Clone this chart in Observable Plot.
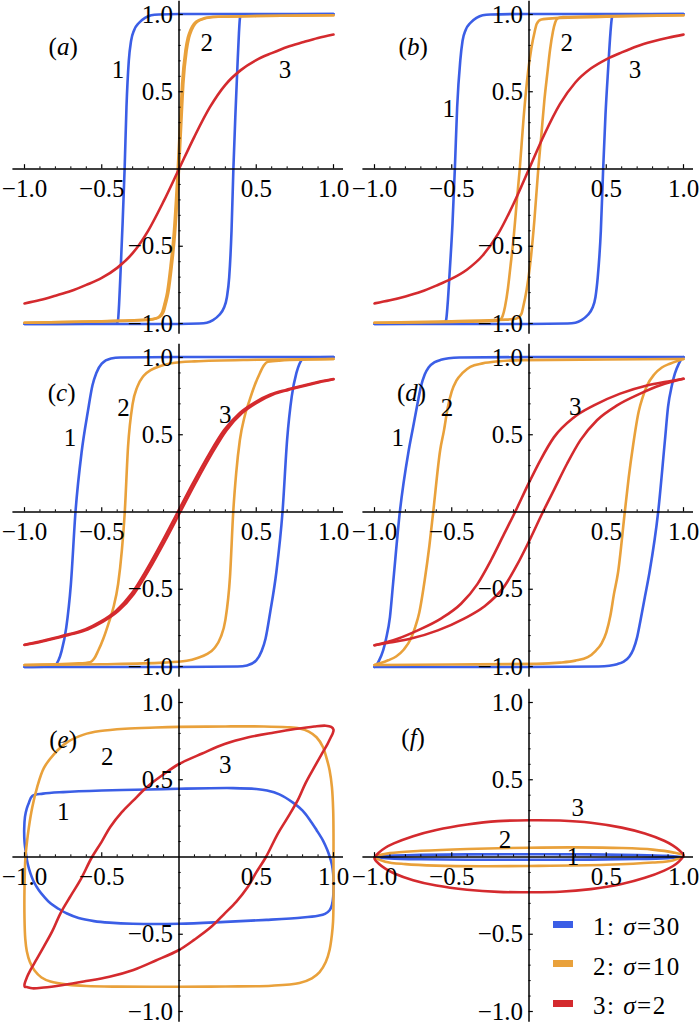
<!DOCTYPE html>
<html><head><meta charset="utf-8">
<script src="https://cdn.jsdelivr.net/npm/d3@7"></script>
<script src="https://cdn.jsdelivr.net/npm/@observablehq/plot@0.6"></script>
<style>
body{margin:0;background:#fff;}
#wrap{position:relative;width:700px;height:1026px;overflow:hidden;font-family:"Liberation Serif","Times New Roman",serif;}
.panel{position:absolute;}
.lrow{position:absolute;white-space:nowrap;font-size:25px;line-height:25px;letter-spacing:1.5px;color:#000;}
.sw{position:absolute;width:20px;height:7px;}
</style></head>
<body><div id="wrap"></div>
<script>
// ---------- tick data ----------
const majorTicks = [-1, -0.5, 0.5, 1];
const xTickLabels = ["−1.0", "−0.5", "0.5", "1.0"];
const yTickLabels = ["−1.0", "−0.5", "0.5", "1.0"];
const minorTicks = [-0.9,-0.8,-0.7,-0.6,-0.4,-0.3,-0.2,-0.1,0.1,0.2,0.3,0.4,0.6,0.7,0.8,0.9];
const seriesColors = ["#3b5ee6", "#e9a13b", "#d42a2e"];
const legendLabels = ["1", "2", "3"];
const legendSigma = ["30", "10", "2"];

// ---------- panel (a) ----------
const A1_up = [[-1,-1.003],[0,-1.003],[0.13,-1.0],[0.18,-0.995],[0.22,-0.978],[0.26,-0.945],[0.29,-0.9],[0.31,-0.83],[0.325,-0.7],[0.34,-0.4],[0.352,0],[0.365,0.35],[0.378,0.66],[0.388,0.88],[0.395,0.98],[0.405,1.0],[1,1.003]];
const A1_down = [[-1,-1.003],[-0.405,-1.0],[-0.395,-0.98],[-0.388,-0.88],[-0.378,-0.66],[-0.365,-0.35],[-0.352,0],[-0.34,0.4],[-0.325,0.7],[-0.31,0.83],[-0.29,0.9],[-0.26,0.945],[-0.22,0.978],[-0.18,0.995],[-0.13,1.0],[0,1.003],[1,1.003]];
const A2_up = [[-1,-0.995],[-0.5,-0.985],[-0.2,-0.975],[-0.14,-0.965],[-0.115,-0.95],[-0.1,-0.925],[-0.085,-0.87],[-0.069,-0.8],[-0.047,-0.63],[-0.026,-0.42],[0,0],[0.017,0.34],[0.028,0.55],[0.05,0.77],[0.065,0.85],[0.082,0.9],[0.105,0.94],[0.136,0.964],[0.22,0.984],[0.5,0.99],[1,0.995]];
const A2_down = [[-1,-0.995],[-0.5,-0.986],[-0.2,-0.977],[-0.15,-0.968],[-0.125,-0.952],[-0.108,-0.925],[-0.093,-0.87],[-0.077,-0.8],[-0.055,-0.63],[-0.034,-0.42],[-0.008,0],[0.009,0.34],[0.02,0.55],[0.042,0.77],[0.057,0.85],[0.074,0.9],[0.097,0.94],[0.128,0.964],[0.21,0.984],[0.5,0.99],[1,0.995]];
const A3 = [[-1,-0.87],[-0.9,-0.848],[-0.8,-0.82],[-0.7,-0.79],[-0.6,-0.75],[-0.5,-0.705],[-0.4,-0.64],[-0.3,-0.545],[-0.2,-0.4],[-0.1,-0.21],[0,0],[0.1,0.21],[0.2,0.4],[0.3,0.545],[0.4,0.64],[0.5,0.705],[0.6,0.75],[0.7,0.79],[0.8,0.82],[0.9,0.848],[1,0.87]];

// ---------- panel (b) ----------
const B1_up = [[-1,-1.003],[0,-1.003],[0.25,-1.0],[0.3,-0.995],[0.34,-0.978],[0.38,-0.945],[0.41,-0.9],[0.43,-0.83],[0.445,-0.7],[0.465,-0.4],[0.48,0],[0.495,0.35],[0.513,0.66],[0.527,0.88],[0.537,0.98],[0.55,1.0],[1,1.003]];
const B1_down = [[-1,-1.003],[-0.55,-1.0],[-0.537,-0.98],[-0.527,-0.88],[-0.513,-0.66],[-0.495,-0.35],[-0.48,0],[-0.465,0.4],[-0.445,0.7],[-0.43,0.83],[-0.41,0.9],[-0.38,0.945],[-0.34,0.978],[-0.3,0.995],[-0.25,1.0],[0,1.003],[1,1.003]];
const B2_up = [[-1,-0.995],[-0.5,-0.985],[-0.15,-0.975],[-0.08,-0.967],[-0.05,-0.94],[-0.037,-0.89],[-0.015,-0.78],[0.006,-0.63],[0.035,-0.33],[0.06,0],[0.08,0.22],[0.1,0.45],[0.12,0.63],[0.136,0.77],[0.155,0.89],[0.17,0.95],[0.185,0.975],[0.22,0.983],[0.5,0.99],[1,0.995]];
const B2_down = [[-1,-0.995],[-0.5,-0.99],[-0.22,-0.983],[-0.185,-0.975],[-0.17,-0.95],[-0.155,-0.89],[-0.136,-0.77],[-0.12,-0.63],[-0.1,-0.45],[-0.08,-0.22],[-0.06,0],[-0.035,0.33],[-0.006,0.63],[0.015,0.78],[0.037,0.89],[0.05,0.94],[0.08,0.967],[0.15,0.975],[0.5,0.985],[1,0.995]];
const B3 = [[-1,-0.87],[-0.9,-0.85],[-0.8,-0.825],[-0.7,-0.795],[-0.6,-0.755],[-0.5,-0.71],[-0.4,-0.65],[-0.3,-0.56],[-0.2,-0.42],[-0.1,-0.225],[0,0],[0.1,0.225],[0.2,0.42],[0.3,0.56],[0.4,0.65],[0.5,0.71],[0.6,0.755],[0.7,0.795],[0.8,0.825],[0.9,0.85],[1,0.87]];

// ---------- panel (c) ----------
const C1_up = [[-1,-1.003],[0,-1.003],[0.38,-1.0],[0.44,-0.993],[0.5,-0.96],[0.535,-0.9],[0.56,-0.82],[0.59,-0.65],[0.63,-0.39],[0.67,0],[0.7,0.47],[0.73,0.75],[0.76,0.9],[0.78,0.96],[0.8,0.99],[0.84,1.0],[1,1.003]];
const C1_down = [[-1,-1.003],[-0.84,-1.0],[-0.8,-0.99],[-0.78,-0.96],[-0.76,-0.9],[-0.73,-0.75],[-0.7,-0.47],[-0.67,0],[-0.63,0.39],[-0.59,0.65],[-0.56,0.82],[-0.535,0.9],[-0.5,0.96],[-0.44,0.993],[-0.38,1.0],[0,1.003],[1,1.003]];
const C2_up = [[-1,-0.99],[-0.5,-0.985],[-0.1,-0.975],[0.05,-0.963],[0.12,-0.945],[0.18,-0.92],[0.23,-0.88],[0.27,-0.81],[0.3,-0.7],[0.33,-0.42],[0.351,0],[0.37,0.25],[0.394,0.466],[0.425,0.62],[0.459,0.73],[0.49,0.82],[0.524,0.9],[0.55,0.95],[0.575,0.972],[0.65,0.98],[1,0.99]];
const C2_down = [[-1,-0.99],[-0.65,-0.98],[-0.575,-0.972],[-0.55,-0.95],[-0.524,-0.9],[-0.49,-0.82],[-0.459,-0.73],[-0.425,-0.62],[-0.394,-0.466],[-0.37,-0.25],[-0.351,0],[-0.33,0.42],[-0.3,0.7],[-0.27,0.81],[-0.23,0.88],[-0.18,0.92],[-0.12,0.945],[-0.05,0.963],[0.1,0.975],[0.5,0.985],[1,0.99]];
const C3_up = [[-1,-0.861],[-0.892,-0.84],[-0.792,-0.815],[-0.692,-0.79],[-0.592,-0.76],[-0.492,-0.71],[-0.392,-0.64],[-0.292,-0.53],[-0.192,-0.37],[-0.092,-0.19],[0.008,0],[0.108,0.19],[0.208,0.37],[0.308,0.53],[0.408,0.64],[0.508,0.71],[0.608,0.76],[0.708,0.79],[0.808,0.815],[0.908,0.84],[1,0.859]];
const C3_down = [[-1,-0.859],[-0.908,-0.84],[-0.808,-0.815],[-0.708,-0.79],[-0.608,-0.76],[-0.508,-0.71],[-0.408,-0.64],[-0.308,-0.53],[-0.208,-0.37],[-0.108,-0.19],[-0.008,0],[0.092,0.19],[0.192,0.37],[0.292,0.53],[0.392,0.64],[0.492,0.71],[0.592,0.76],[0.692,0.79],[0.792,0.815],[0.892,0.84],[1,0.861]];

// ---------- panel (d) ----------
const D1_up = [[-1,-1.003],[0,-1.003],[0.45,-1.0],[0.52,-0.995],[0.57,-0.985],[0.61,-0.97],[0.65,-0.935],[0.675,-0.89],[0.7,-0.81],[0.72,-0.71],[0.75,-0.55],[0.78,-0.39],[0.836,0],[0.88,0.466],[0.9,0.68],[0.925,0.82],[0.944,0.895],[0.97,0.96],[0.99,0.995],[1,1.003]];
const D1_down = [[-1,-1.003],[-0.99,-0.995],[-0.97,-0.96],[-0.944,-0.895],[-0.925,-0.82],[-0.9,-0.68],[-0.88,-0.466],[-0.836,0],[-0.78,0.39],[-0.75,0.55],[-0.72,0.71],[-0.7,0.81],[-0.675,0.89],[-0.65,0.935],[-0.61,0.97],[-0.57,0.985],[-0.52,0.995],[-0.45,1.0],[0,1.003],[1,1.003]];
const D2_up = [[-1,-0.99],[-0.5,-0.987],[0.05,-0.983],[0.2,-0.975],[0.3,-0.962],[0.38,-0.94],[0.43,-0.9],[0.47,-0.85],[0.5,-0.78],[0.527,-0.67],[0.55,-0.53],[0.575,-0.4],[0.62,0],[0.645,0.22],[0.675,0.44],[0.71,0.65],[0.735,0.74],[0.765,0.82],[0.81,0.89],[0.86,0.935],[0.912,0.96],[0.96,0.978],[1,0.99]];
const D2_down = [[-1,-0.99],[-0.96,-0.978],[-0.912,-0.96],[-0.86,-0.935],[-0.81,-0.89],[-0.765,-0.82],[-0.735,-0.74],[-0.71,-0.65],[-0.675,-0.44],[-0.645,-0.22],[-0.62,0],[-0.575,0.4],[-0.55,0.53],[-0.527,0.67],[-0.5,0.78],[-0.47,0.85],[-0.43,0.9],[-0.38,0.94],[-0.3,0.962],[-0.2,0.975],[-0.05,0.983],[0.5,0.987],[1,0.99]];
const D3_up = [[-1,-0.862],[-0.9,-0.845],[-0.763,-0.819],[-0.59,-0.766],[-0.42,-0.69],[-0.29,-0.612],[-0.161,-0.483],[-0.075,-0.338],[0,-0.19],[0.09,0],[0.161,0.142],[0.247,0.314],[0.333,0.465],[0.44,0.594],[0.57,0.69],[0.72,0.766],[0.85,0.82],[1,0.862]];
const D3_down = [[-1,-0.862],[-0.85,-0.82],[-0.72,-0.766],[-0.57,-0.69],[-0.44,-0.594],[-0.333,-0.465],[-0.247,-0.314],[-0.161,-0.142],[-0.09,0],[0,0.19],[0.075,0.338],[0.161,0.483],[0.29,0.612],[0.42,0.69],[0.59,0.766],[0.763,0.819],[0.9,0.845],[1,0.862]];

// ---------- panel (e) closed loops ----------
const E1 = [[-0.95,0.395],[-0.88,0.41],[-0.75,0.42],[-0.5,0.43],[-0.2,0.437],[0,0.442],[0.35,0.446],[0.5,0.44],[0.57,0.43],[0.65,0.405],[0.74,0.35],[0.8,0.3],[0.847,0.24],[0.89,0.175],[0.933,0.105],[0.96,0.045],[0.976,0.0],[0.99,-0.05],[0.998,-0.11],[1.0,-0.18],[0.998,-0.256],[0.99,-0.31],[0.976,-0.343],[0.945,-0.368],[0.9,-0.38],[0.8,-0.392],[0.567,-0.407],[0.3,-0.42],[0,-0.432],[-0.3,-0.432],[-0.45,-0.425],[-0.55,-0.415],[-0.65,-0.395],[-0.725,-0.366],[-0.78,-0.335],[-0.832,-0.3],[-0.875,-0.255],[-0.907,-0.215],[-0.94,-0.16],[-0.961,-0.108],[-0.98,-0.04],[-0.99,0.02],[-1.0,0.1],[-1.002,0.18],[-0.997,0.26],[-0.985,0.315],[-0.972,0.35]];
const E2 = [[0,0.842],[0.3,0.845],[0.55,0.845],[0.7,0.84],[0.78,0.832],[0.84,0.812],[0.89,0.775],[0.93,0.715],[0.955,0.64],[0.975,0.56],[0.99,0.45],[0.998,0.3],[1.0,0.15],[1.0,0.0],[1.0,-0.15],[1.0,-0.3],[0.997,-0.42],[0.99,-0.5],[0.975,-0.6],[0.95,-0.68],[0.91,-0.745],[0.86,-0.785],[0.78,-0.815],[0.6,-0.833],[0.3,-0.838],[0,-0.84],[-0.4,-0.839],[-0.6,-0.835],[-0.72,-0.826],[-0.832,-0.806],[-0.89,-0.78],[-0.935,-0.735],[-0.965,-0.68],[-0.985,-0.61],[-0.995,-0.53],[-1.0,-0.4],[-1.0,-0.2],[-0.994,0],[-0.987,0.07],[-0.972,0.19],[-0.95,0.32],[-0.918,0.452],[-0.875,0.575],[-0.81,0.665],[-0.725,0.742],[-0.617,0.792],[-0.51,0.815],[-0.35,0.83],[-0.15,0.838]];
const E3 = [[-1.0,-0.825],[-0.985,-0.78],[-0.961,-0.731],[-0.92,-0.66],[-0.875,-0.58],[-0.82,-0.48],[-0.768,-0.366],[-0.7,-0.25],[-0.639,-0.15],[-0.563,0],[-0.5,0.1],[-0.445,0.194],[-0.37,0.29],[-0.295,0.366],[-0.209,0.452],[-0.1,0.535],[0,0.602],[0.15,0.67],[0.295,0.731],[0.45,0.775],[0.617,0.806],[0.75,0.828],[0.875,0.845],[0.95,0.85],[0.985,0.842],[1.0,0.825],[0.995,0.8],[0.985,0.78],[0.961,0.731],[0.92,0.66],[0.875,0.58],[0.82,0.48],[0.768,0.366],[0.7,0.25],[0.639,0.15],[0.563,0],[0.5,-0.1],[0.445,-0.194],[0.37,-0.29],[0.295,-0.366],[0.209,-0.452],[0.1,-0.535],[0,-0.602],[-0.15,-0.67],[-0.295,-0.731],[-0.45,-0.775],[-0.617,-0.806],[-0.75,-0.828],[-0.875,-0.845],[-0.95,-0.85],[-0.985,-0.842],[-0.998,-0.84]];

// ---------- panel (f) closed loops ----------
const F1 = [[-1.0,0],[-0.9,0.009],[-0.7,0.014],[-0.4,0.017],[0,0.018],[0.4,0.017],[0.7,0.013],[0.9,0.007],[1.0,0.0],[0.9,-0.007],[0.7,-0.013],[0.4,-0.017],[0,-0.018],[-0.4,-0.018],[-0.7,-0.015],[-0.9,-0.009]];
const F2 = [[-1.0,0.0],[-0.9,0.025],[-0.7,0.04],[-0.4,0.052],[0,0.06],[0.3,0.062],[0.6,0.058],[0.8,0.048],[0.93,0.03],[1.0,0.008],[0.93,-0.022],[0.8,-0.036],[0.5,-0.05],[0,-0.058],[-0.3,-0.06],[-0.6,-0.056],[-0.8,-0.046],[-0.93,-0.03]];
const F3 = [[-1.0,-0.01],[-0.97,0.03],[-0.93,0.06],[-0.875,0.088],[-0.75,0.135],[-0.6,0.175],[-0.4,0.21],[-0.2,0.232],[0,0.238],[0.2,0.236],[0.4,0.222],[0.6,0.19],[0.75,0.152],[0.875,0.105],[0.93,0.075],[0.97,0.045],[1.0,0.012],[0.97,-0.03],[0.93,-0.06],[0.875,-0.088],[0.75,-0.135],[0.6,-0.175],[0.4,-0.208],[0.2,-0.225],[0,-0.228],[-0.2,-0.226],[-0.4,-0.212],[-0.6,-0.185],[-0.75,-0.15],[-0.875,-0.105],[-0.93,-0.075],[-0.97,-0.045]];

// ---------- labels ----------
const panelLetters = ["a","b","c","d","e","f"];
const panelLetterPos = [[-0.75,0.79],[-0.75,0.79],[-0.76,0.77],[-0.76,0.77],[-0.75,0.76],[-0.75,0.77]];
const curveLabelPos = [
  [[-0.395,0.64],[0.18,0.815],[0.686,0.64]],
  [[-0.52,0.39],[0.245,0.815],[0.686,0.64]],
  [[-0.705,0.48],[-0.36,0.67],[0.30,0.63]],
  [[-0.85,0.48],[-0.53,0.67],[0.30,0.68]],
  [[-0.75,0.29],[-0.465,0.645],[0.30,0.594]],
  [[0.284,0.0],[-0.155,0.11],[0.316,0.32]]
];

const panels = [
  {left:0,   top:0,   closed:false, curves:[[A1_up,0],[A1_down,0],[A2_up,1],[A2_down,1],[A3,2]]},
  {left:350, top:0,   closed:false, curves:[[B1_up,0],[B1_down,0],[B2_up,1],[B2_down,1],[B3,2]]},
  {left:0,   top:343, closed:false, curves:[[C1_up,0],[C1_down,0],[C2_up,1],[C2_down,1],[C3_up,2],[C3_down,2]]},
  {left:350, top:343, closed:false, curves:[[D1_up,0],[D1_down,0],[D2_up,1],[D2_down,1],[D3_up,2],[D3_down,2]]},
  {left:0,   top:688, closed:true,  curves:[[E1,0],[E2,1],[E3,2]]},
  {left:350, top:688, closed:true,  curves:[[F1,0],[F2,1],[F3,2]]}
];

const wrap = document.getElementById("wrap");
const FS = 25;

panels.forEach((p, i) => {
  const marks = [];
  p.curves.forEach(([pts, c]) => {
    marks.push(Plot.line(pts, {x: d => d[0], y: d => d[1], stroke: seriesColors[c], strokeWidth: 2.6,
      curve: p.closed ? "catmull-rom-closed" : "monotone-x"}));
  });
  // axes
  marks.push(Plot.ruleY([0], {x1: -1.075, x2: 1.065, stroke: "#000", strokeWidth: 1.5}));
  marks.push(Plot.ruleX([0], {y1: -1.07, y2: 1.085, stroke: "#000", strokeWidth: 1.5}));
  marks.push(Plot.ruleX(minorTicks, {x: d => d, y1: 0, y2: 0.014, stroke: "#000", strokeWidth: 1}));
  marks.push(Plot.ruleX(majorTicks, {x: d => d, y1: 0, y2: 0.028, stroke: "#000", strokeWidth: 1.2}));
  marks.push(Plot.ruleY(minorTicks, {y: d => d, x1: 0, x2: 0.014, stroke: "#000", strokeWidth: 1}));
  marks.push(Plot.ruleY(majorTicks, {y: d => d, x1: 0, x2: 0.028, stroke: "#000", strokeWidth: 1.2}));
  marks.push(Plot.text(majorTicks, {x: d => d, y: d => 0, text: (d, j) => xTickLabels[j], dy: 10, lineAnchor: "top", fontSize: FS, fill: "#000"}));
  marks.push(Plot.text(majorTicks, {x: d => 0, y: d => d, text: (d, j) => yTickLabels[j], dx: -6, textAnchor: "end", lineAnchor: "middle", fontSize: FS, fill: "#000"}));
  // curve numbers
  marks.push(Plot.text(curveLabelPos[i], {x: d => d[0], y: d => d[1], text: (d, j) => legendLabels[j], fontSize: FS, fill: "#000", lineAnchor: "middle"}));
  // panel letter
  marks.push(Plot.text([panelLetterPos[i]], {x: d => d[0], y: d => d[1], text: () => "(" + panelLetters[i] + ")", fontSize: FS, fill: "#000", lineAnchor: "middle", className: "plabel"}));

  const svg = Plot.plot({
    width: 350, height: 340, margin: 0,
    x: {domain: [-1, 1], range: [24, 333], axis: null},
    y: {domain: [-1, 1], range: [323, 14], axis: null},
    style: {fontFamily: '"Liberation Serif", "Times New Roman", serif', background: "transparent", overflow: "visible"},
    marks
  });
  svg.classList.add("panel");
  svg.style.left = p.left + "px";
  svg.style.top = p.top + "px";
  svg.style.position = "absolute";
  // italic letter inside parentheses
  svg.querySelectorAll(".plabel text").forEach(t => {
    const s = t.textContent;
    const m = s.match(/^\((.)\)$/);
    if (m) {
      t.textContent = "";
      const ns = "http://www.w3.org/2000/svg";
      const a = document.createElementNS(ns, "tspan"); a.textContent = "(";
      const b = document.createElementNS(ns, "tspan"); b.textContent = m[1]; b.setAttribute("font-style", "italic");
      const c = document.createElementNS(ns, "tspan"); c.textContent = ")";
      t.append(a, b, c);
    }
  });
  wrap.appendChild(svg);
});

// legend
legendLabels.forEach((lab, k) => {
  const top = 920.7 + k * 39.6;
  const sw = document.createElement("div");
  sw.className = "sw";
  sw.style.left = "553px"; sw.style.top = top + "px"; sw.style.background = seriesColors[k];
  wrap.appendChild(sw);
  const tx = document.createElement("div");
  tx.className = "lrow";
  tx.style.left = "593px"; tx.style.top = (top - 6.5) + "px";
  tx.innerHTML = lab + ": <i>σ</i>=" + legendSigma[k];
  wrap.appendChild(tx);
});
</script>
</body></html>
